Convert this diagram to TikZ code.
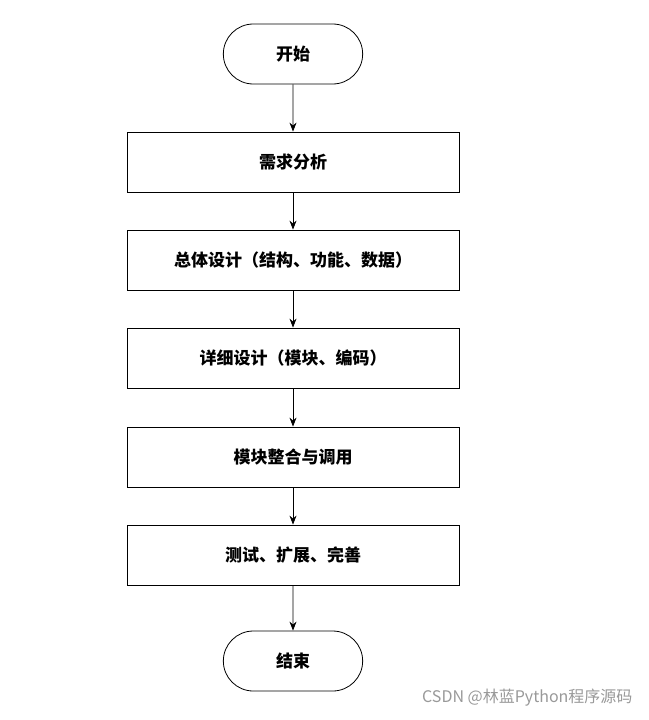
\documentclass[tikz,border=0pt]{standalone}
\usepackage{fontspec}
\newfontfamily\cjk{Noto Sans CJK SC}
\usetikzlibrary{shapes.misc,arrows.meta}
\begin{document}
\begin{tikzpicture}[x=1pt,y=-1pt,
  box/.style={draw,line width=0.8pt,minimum width=332pt,minimum height=60pt,font=\cjk\bfseries\fontsize{17}{20}\selectfont},
  term/.style={draw,line width=0.8pt,rounded rectangle,minimum width=146pt,minimum height=60pt,font=\cjk\bfseries\fontsize{17}{20}\selectfont},
  arr/.style={-{Stealth[length=9pt,width=7pt]},line width=0.8pt}]
\useasboundingbox (0,0) rectangle (648,720);
\node[term] (s) at (293,54) {开始};
\node[box] (a) at (293,162) {需求分析};
\node[box] (b) at (293,260) {总体设计（结构、功能、数据）};
\node[box] (c) at (293,358) {详细设计（模块、编码）};
\node[box] (d) at (293,457) {模块整合与调用};
\node[box] (e) at (293,555) {测试、扩展、完善};
\node[term] (t) at (293,661) {结束};
\draw[arr] (s) -- (a);
\draw[arr] (a) -- (b);
\draw[arr] (b) -- (c);
\draw[arr] (c) -- (d);
\draw[arr] (d) -- (e);
\draw[arr] (e) -- (t);
\node[anchor=east,text=gray!80,font=\cjk\fontsize{16}{18}\selectfont] (w) at (636,698) {CSDN @林蓝Python程序源码};
\end{tikzpicture}
\end{document}
